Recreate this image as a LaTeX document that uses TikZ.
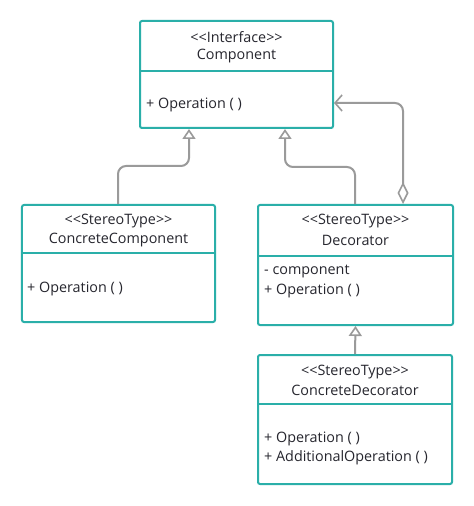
\documentclass[tikz,border=0pt]{standalone}
\usepackage{fontspec}
\setmainfont{Open Sans}[Ligatures=TeXOff]
\usetikzlibrary{arrows.meta}
\definecolor{teal1}{HTML}{2AAFA9}
\definecolor{gline}{HTML}{9A9A9A}
\definecolor{txt}{HTML}{26262E}
\begin{document}
\begin{tikzpicture}[x=1bp,y=-1bp,
  box/.style={draw=teal1, line width=2bp, rounded corners=2bp, inner sep=0, fill=white},
  sep/.style={draw=teal1, line width=2bp},
  lbl/.style={inner sep=0, text=txt, font=\fontsize{14.4}{17}\selectfont},
  member/.style={lbl, anchor=west},
  conn/.style={draw=gline, line width=2bp, rounded corners=8bp},
  inh/.style={conn, -{Triangle[open, width=13bp, length=10bp, line width=1.6bp]}},
]
\useasboundingbox[fill=white] (0,0) rectangle (474,506);
% boxes
\node[box, minimum width=193bp, minimum height=107bp] (comp) at (236.5,74.5) {};
\node[box, minimum width=193bp, minimum height=117bp] (cc) at (118.5,263.5) {};
\node[box, minimum width=195bp, minimum height=120bp] (dec) at (355.5,265) {};
\node[box, minimum width=194bp, minimum height=129bp] (cd) at (355,419.5) {};
% dividers
\draw[sep] (140,71) -- (333,71);
\draw[sep] (22,253) -- (215,253);
\draw[sep] (258,256) -- (453,256);
\draw[sep] (258,404) -- (452,404);
% texts
\node[lbl] (compS) at (236.5,37) {<<Interface>>};
\node[lbl] (compN) at (236.5,56) {Component};
\node[member] (compO) at (146,105) {+ Operation ( )};
\node[lbl] (ccS) at (118.5,221) {<<StereoType>>};
\node[lbl] (ccN) at (118.5,240) {ConcreteComponent};
\node[member] (ccO) at (27,289) {+ Operation ( )};
\node[lbl] (decS) at (355.5,221) {<<StereoType>>};
\node[lbl] (decN) at (355.5,240) {Decorator};
\node[member] (decA) at (264,271) {- component};
\node[member] (decO) at (264,291) {+ Operation ( )};
\node[lbl] (cdS) at (355,372) {<<StereoType>>};
\node[lbl] (cdN) at (355,390) {ConcreteDecorator};
\node[member] (cdO) at (264,439) {+ Operation ( )};
\node[member] (cdA) at (264,458) {+ AdditionalOperation ( )};
% connectors
\coordinate (ccTop) at (118,204);
\coordinate (compB1) at (189,129);
\coordinate (decTop1) at (355,204);
\coordinate (compB2) at (285,129);
\coordinate (decTop2) at (403,204);
\coordinate (compR) at (334,103);
\draw[inh] (cc.north -| ccTop) -- (118,166) -- (189,166) -- (comp.south -| compB1);
\draw[inh] (dec.north -| decTop1) -- (355,167) -- (285,167) -- (comp.south -| compB2);
\draw[conn, {Diamond[open, width=11bp, length=22bp, line width=1.6bp]}-{Straight Barb[width=16bp, length=7bp, line width=1.6bp]}]
  (dec.north -| decTop2) -- (403,103) -- (comp.east |- compR);
\draw[inh] (cd.north) -- (dec.south);
\end{tikzpicture}
\end{document}
